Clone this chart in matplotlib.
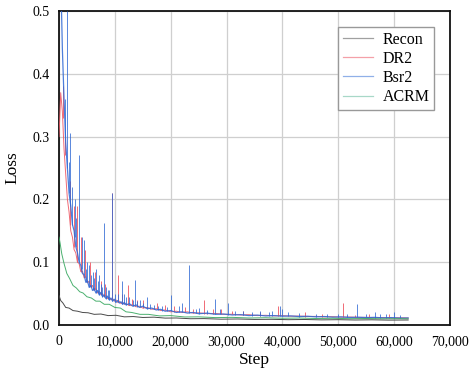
import matplotlib
matplotlib.use("Agg")
import matplotlib.pyplot as plt
from matplotlib.ticker import FuncFormatter

plt.rcParams["font.family"] = ["Liberation Serif", "DejaVu Serif"]

# Recon
recon_steps = [0, 300, 700, 1200, 1800, 2500, 3300, 4200, 5200, 6300, 7500, 8800, 10200,
               11700, 13300, 15000, 17000, 19000, 21000, 23500, 26000, 29000, 32000, 35000,
               38000, 41000, 44000, 47000, 50000, 53000, 56000, 59000, 62500]
recon_loss = [0.047, 0.039, 0.035, 0.028, 0.027, 0.023, 0.022, 0.020, 0.0195, 0.017, 0.0175, 0.015,
              0.0155, 0.013, 0.0135, 0.012, 0.0125, 0.011, 0.0112, 0.010, 0.0102, 0.0093, 0.0096,
              0.0089, 0.0091, 0.0085, 0.0088, 0.0082, 0.0085, 0.0080, 0.0083, 0.0078, 0.0080]

# ACRM
acrm_steps = [0, 200, 500, 900, 1400, 1900, 2500, 3100, 3700, 4300, 5000, 5800, 6600, 7300,
              8100, 9000, 10000, 11000, 12000, 13000, 14500, 16000, 18000, 20000, 22500, 25000,
              28000, 31000, 34000, 37000, 40000, 43000, 46000, 49000, 52000, 55000, 58000, 61000, 62500]
acrm_loss = [0.14, 0.13, 0.113, 0.098, 0.082, 0.074, 0.063, 0.059, 0.053, 0.051, 0.045, 0.043,
             0.038, 0.038, 0.033, 0.033, 0.028, 0.027, 0.021, 0.020, 0.017, 0.017, 0.0145, 0.015,
             0.0128, 0.013, 0.0118, 0.0122, 0.0112, 0.0116, 0.0108, 0.0111, 0.0104, 0.0107, 0.0101,
             0.0104, 0.0099, 0.0101, 0.0098]

# steps shared by DR2 and Bsr2
dense_steps = [0, 300, 600, 900, 1200, 1500, 1800, 2100, 2400, 2700, 3000, 3300, 3600, 3900,
               4200, 4500, 4800, 5100, 5400, 5700, 6000, 6300, 6600, 6900, 7200, 7500, 7800, 8100,
               8400, 8700, 9000, 9300, 9600, 9900, 10200, 10500, 10800, 11100, 11400, 11700, 12000,
               12600, 13200, 13800, 14400, 15000, 15800, 16600, 17400, 18200, 19000, 20000, 21000,
               22000, 23000, 24000, 25000, 26500, 28000, 29500, 31000, 32500, 34000, 35500, 37000,
               38500, 40000, 41500, 43000, 44500, 46000, 47500, 49000, 50500, 52000, 53500, 55000,
               56500, 58000, 59500, 61000, 62500]

# DR2
dr2_loss = [0.30, 0.37, 0.34, 0.28, 0.24, 0.20, 0.18, 0.15, 0.14, 0.12, 0.115, 0.10, 0.098, 0.085,
            0.086, 0.075, 0.077, 0.067, 0.07, 0.06, 0.063, 0.055, 0.058, 0.051, 0.054, 0.048, 0.05,
            0.045, 0.047, 0.042, 0.044, 0.040, 0.042, 0.038, 0.04, 0.036, 0.038, 0.034, 0.036,
            0.033, 0.034, 0.031, 0.032, 0.029, 0.030, 0.027, 0.028, 0.025, 0.026, 0.023, 0.024,
            0.021, 0.022, 0.02, 0.021, 0.019, 0.0195, 0.018, 0.0185, 0.017, 0.0172, 0.016, 0.0165,
            0.015, 0.0155, 0.0145, 0.015, 0.014, 0.0143, 0.0135, 0.0138, 0.013, 0.0133, 0.0125,
            0.0128, 0.012, 0.0123, 0.0116, 0.0119, 0.0113, 0.0116, 0.0112]
dr2_spike_steps = [700, 1000, 2000, 2600, 3200, 4000, 4600, 5600, 6500, 7600, 8300, 9500, 10600,
                   11300, 12400, 13000, 14000, 15000, 17500, 19000, 20500, 22500, 24000, 26000,
                   27500, 29000, 31000, 33000, 36000, 39200, 44000, 47000, 50800, 53000, 55500, 59000]
dr2_spike_lo = [0.33, 0.27, 0.16, 0.125, 0.10, 0.085, 0.076, 0.062, 0.057, 0.049, 0.046, 0.041,
                0.037, 0.035, 0.032, 0.032, 0.030, 0.027, 0.025, 0.024, 0.021, 0.020, 0.019, 0.018,
                0.018, 0.017, 0.017, 0.016, 0.015, 0.0145, 0.0135, 0.013, 0.0125, 0.012, 0.012, 0.0115]
dr2_spike_hi = [0.38, 0.30, 0.23, 0.19, 0.19, 0.14, 0.12, 0.10, 0.085, 0.07, 0.065, 0.21, 0.08,
                0.05, 0.064, 0.042, 0.04, 0.04, 0.035, 0.032, 0.03, 0.028, 0.026, 0.04, 0.025,
                0.025, 0.022, 0.022, 0.02, 0.03, 0.02, 0.018, 0.035, 0.016, 0.018, 0.017]

# Bsr2
bsr2_loss = [0.65, 0.56, 0.44, 0.36, 0.29, 0.25, 0.21, 0.19, 0.16, 0.15, 0.125, 0.115, 0.10, 0.095,
             0.082, 0.08, 0.068, 0.07, 0.06, 0.063, 0.055, 0.058, 0.051, 0.055, 0.048, 0.052,
             0.045, 0.048, 0.042, 0.046, 0.040, 0.043, 0.038, 0.041, 0.036, 0.039, 0.035, 0.037,
             0.033, 0.036, 0.032, 0.034, 0.030, 0.032, 0.028, 0.030, 0.026, 0.027, 0.024, 0.025,
             0.022, 0.023, 0.02, 0.021, 0.019, 0.02, 0.018, 0.019, 0.017, 0.0175, 0.016, 0.0165,
             0.015, 0.0158, 0.0145, 0.015, 0.014, 0.0145, 0.0135, 0.014, 0.013, 0.0135, 0.0125,
             0.013, 0.012, 0.0125, 0.0118, 0.0122, 0.0114, 0.0118, 0.011, 0.0112]
bsr2_spike_steps = [1100, 1400, 1700, 2000, 2400, 2800, 3000, 3600, 4100, 4500, 4800, 5000, 5400,
                    5800, 6000, 6300, 6600, 6900, 7200, 7500, 7700, 8100, 8400, 8800, 9000, 9500,
                    10100, 10500, 11200, 11700, 12000, 12600, 13200, 13600, 14000, 14500, 15000,
                    15700, 16300, 17000, 17800, 18500, 19300, 20000, 21500, 22000, 23300, 24500,
                    25000, 26500, 27900, 28800, 30200, 31500, 33000, 34500, 36000, 37500, 38200,
                    39500, 40000, 41000, 43000, 46000, 48000, 50000, 51500, 53300, 55000, 56500,
                    57500, 58500, 60000, 61000]
bsr2_spike_lo = [0.30, 0.25, 0.21, 0.19, 0.16, 0.14, 0.125, 0.10, 0.09, 0.08, 0.068, 0.068, 0.06,
                 0.06, 0.055, 0.055, 0.051, 0.051, 0.048, 0.048, 0.045, 0.045, 0.042, 0.042, 0.04,
                 0.038, 0.036, 0.036, 0.034, 0.033, 0.032, 0.032, 0.030, 0.030, 0.029, 0.028, 0.028,
                 0.026, 0.026, 0.025, 0.024, 0.023, 0.022, 0.022, 0.020, 0.020, 0.019, 0.019, 0.018,
                 0.018, 0.017, 0.017, 0.016, 0.016, 0.0155, 0.015, 0.015, 0.0145, 0.0145, 0.014,
                 0.014, 0.014, 0.0135, 0.013, 0.013, 0.0125, 0.012, 0.012, 0.012, 0.0118, 0.0115,
                 0.0115, 0.011, 0.011]
bsr2_spike_hi = [0.36, 0.50, 0.26, 0.305, 0.22, 0.20, 0.17, 0.27, 0.14, 0.135, 0.09, 0.10, 0.095,
                 0.08, 0.085, 0.075, 0.09, 0.07, 0.08, 0.065, 0.06, 0.162, 0.06, 0.055, 0.055, 0.21,
                 0.05, 0.05, 0.07, 0.05, 0.045, 0.045, 0.04, 0.072, 0.038, 0.04, 0.035, 0.045,
                 0.034, 0.032, 0.03, 0.03, 0.028, 0.048, 0.03, 0.035, 0.095, 0.025, 0.027, 0.024,
                 0.042, 0.025, 0.035, 0.023, 0.022, 0.021, 0.022, 0.02, 0.022, 0.03, 0.025, 0.02,
                 0.019, 0.018, 0.018, 0.017, 0.017, 0.033, 0.018, 0.02, 0.017, 0.018, 0.02, 0.016]

x_ticks = [0, 10000, 20000, 30000, 40000, 50000, 60000, 70000]
y_ticks = [0.0, 0.1, 0.2, 0.3, 0.4, 0.5]

c_recon = "#4a4a4a"
c_dr2 = "#ee5a66"
c_bsr2 = "#2f68d4"
c_acrm = "#38a860"

fig = plt.figure(figsize=(4.74, 3.72), dpi=100)
ax = fig.add_axes([0.1245, 0.1263, 0.825, 0.844])

lw = 0.7
ax.plot(recon_steps, recon_loss, color=c_recon, lw=lw, label="Recon", zorder=5)
ax.plot(dense_steps, dr2_loss, color=c_dr2, lw=lw, alpha=0.9, label="DR2", zorder=3)
ax.vlines(dr2_spike_steps, dr2_spike_lo, dr2_spike_hi, color=c_dr2, lw=lw, alpha=0.9, zorder=3)
ax.plot(dense_steps, bsr2_loss, color=c_bsr2, lw=lw + 0.2, alpha=0.85, label="Bsr2", zorder=4)
ax.vlines(bsr2_spike_steps, bsr2_spike_lo, bsr2_spike_hi, color=c_bsr2, lw=lw, alpha=0.8, zorder=4)
ax.plot(acrm_steps, acrm_loss, color=c_acrm, lw=lw, alpha=0.9, label="ACRM", zorder=4)

ax.set_xlim(0, 70000)
ax.set_ylim(0, 0.5)
ax.set_xticks(x_ticks)
ax.set_yticks(y_ticks)
ax.xaxis.set_major_formatter(FuncFormatter(lambda v, p: f"{v:,.0f}"))
ax.yaxis.set_major_formatter(FuncFormatter(lambda v, p: f"{v:.1f}"))
ax.tick_params(length=0, labelsize=10, pad=7)
ax.grid(True, color="#cfcfcf", lw=0.9)
ax.set_axisbelow(True)
for s in ax.spines.values():
    s.set_linewidth(1.3)
    s.set_color("#111111")

ax.set_xlabel("Step", fontsize=12.5, labelpad=3)
ax.set_ylabel("Loss", fontsize=12.5, labelpad=8)

leg = ax.legend(loc="upper right", bbox_to_anchor=(0.96, 0.95), borderaxespad=0,
                fancybox=False, edgecolor="#999999", framealpha=1, fontsize=11.5,
                handlelength=1.9, handletextpad=0.6, labelspacing=0.2, borderpad=0.3)
legend_colors = ["#a0a0a0", "#f4a0a8", "#90b0e8", "#a8d8c8"]
for line, col in zip(leg.get_lines(), legend_colors):
    line.set_color(col)
    line.set_alpha(1)
    line.set_linewidth(0.9)

fig.savefig("out.png", dpi=100)
